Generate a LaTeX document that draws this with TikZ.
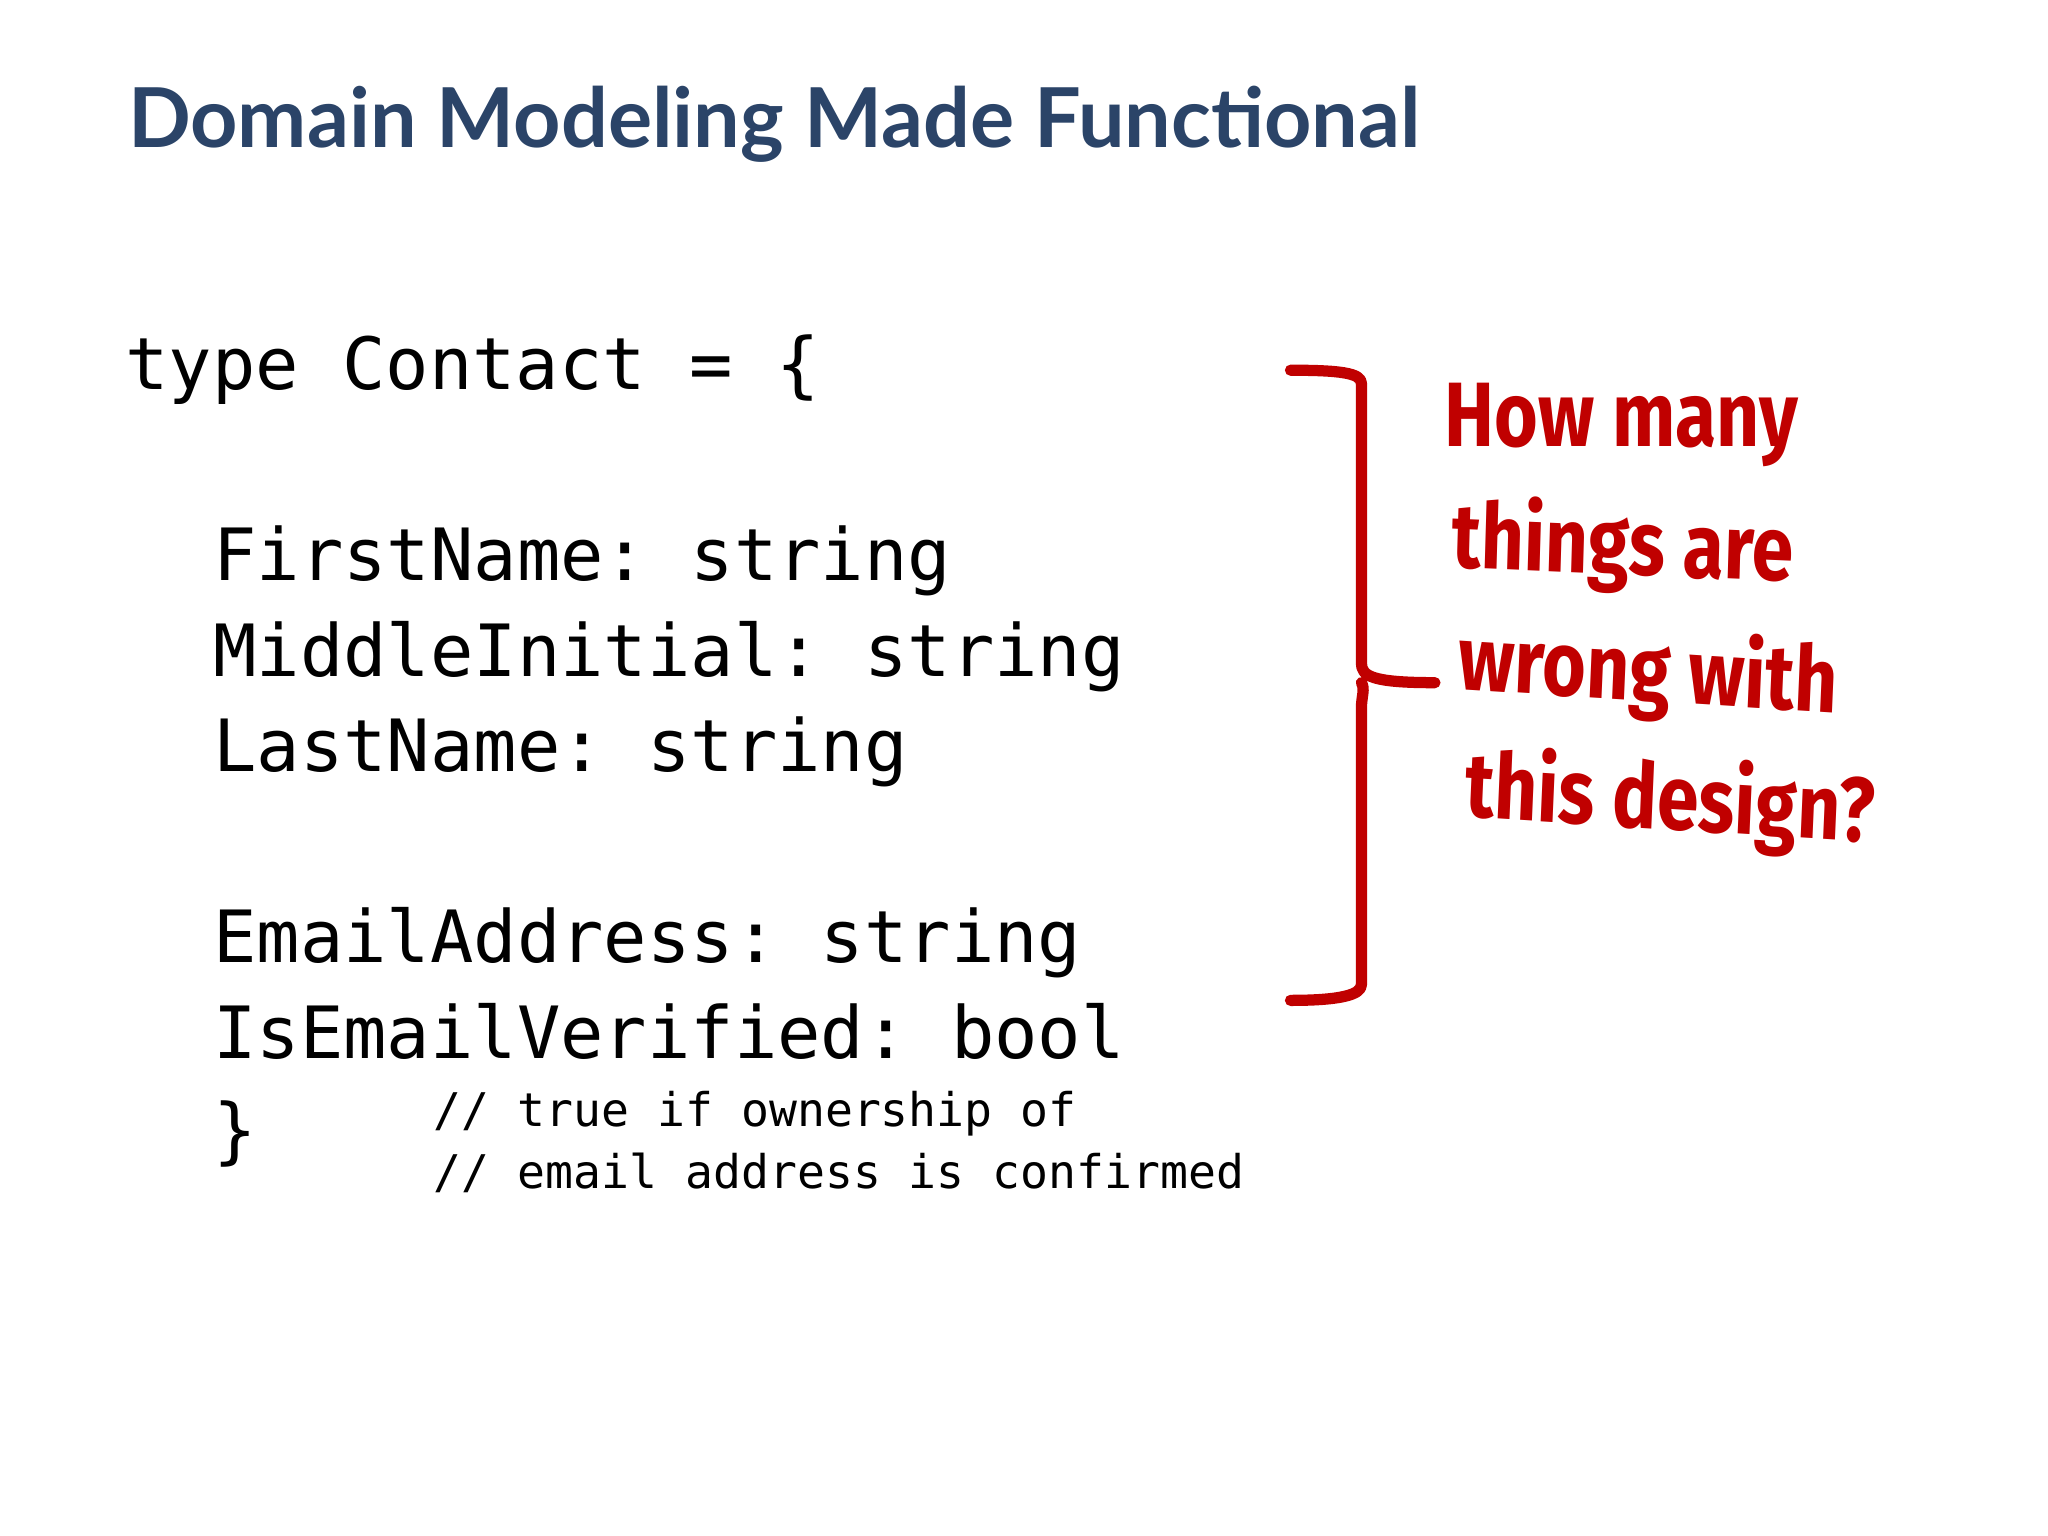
\documentclass[tikz,border=0pt]{standalone}
\usepackage{fontspec}
\setmonofont{DejaVu Sans Mono}
\newfontfamily\titlefont{Lato}
\newfontfamily\handfont{Fira Sans}
\definecolor{titleblue}{HTML}{2B4468}
\definecolor{handred}{HTML}{C00000}
\begin{document}
\begin{tikzpicture}[x=0.01313cm,y=-0.01313cm,
  code/.style={anchor=base west,inner sep=0,font=\ttfamily\fontsize{20.5}{24}\selectfont},
  cmt/.style={anchor=base west,inner sep=0,font=\ttfamily\fontsize{13.2}{16}\selectfont},
  hand/.style={anchor=base west,inner sep=0,text=handred,font=\handfont\bfseries\fontsize{26}{30}\selectfont,xscale=0.82,transform shape}]
\useasboundingbox (0,0) rectangle (1560,1170);
\node[anchor=base west,inner sep=0,text=titleblue,font=\titlefont\bfseries\fontsize{23.5}{28}\selectfont] (title) at (97,112) {Domain Modeling Made Functional};
\node[code] (l1) at (95,297) {type Contact = \{};
\node[code] (l2) at (162,442) {FirstName: string};
\node[code] (l3) at (162,515) {MiddleInitial: string};
\node[code] (l4) at (162,588) {LastName: string};
\node[code] (l5) at (162,733) {EmailAddress: string};
\node[code] (l6) at (162,806) {IsEmailVerified: bool};
\node[code] (l7) at (162,880) {\}};
\node[cmt] (c1) at (330,858) {// true if ownership of};
\node[cmt] (c2) at (330,905) {// email address is confirmed};
\draw[handred,line width=3.2pt,line cap=round,line join=round]
  (983,282) .. controls (1020,282) and (1037,284) .. (1037,292) -- (1037,505)
  .. controls (1037,515) and (1045,520) .. (1093,520)
  (1037,520) .. controls (1040,525) and (1037,530) .. (1037,540) -- (1037,750)
  .. controls (1037,758) and (1020,762) .. (983,762);
\node[hand] (h1) at (1100,340) {How many};
\node[hand,rotate=-2] (h2) at (1105,432) {things are};
\node[hand,rotate=-3] (h3) at (1110,525) {wrong with};
\node[hand,rotate=-3] (h4) at (1115,622) {this design?};
\end{tikzpicture}
\end{document}
